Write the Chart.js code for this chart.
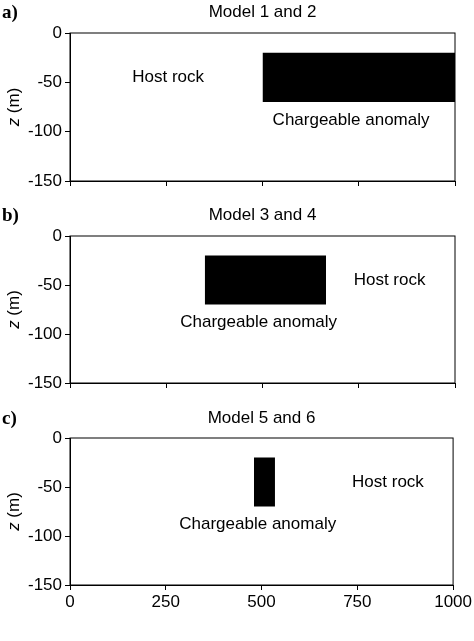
<!DOCTYPE html>
<html><head>
<script src="https://cdn.jsdelivr.net/npm/chart.js@4/dist/chart.umd.min.js"></script>
<style>
body{margin:0;background:#fff;width:474px;height:641px;position:relative;overflow:hidden}
.p{position:absolute;left:0;width:474px}
</style></head><body>
<div class="p" style="top:0;height:203px"><canvas id="ca"></canvas></div>
<div class="p" style="top:203px;height:203px"><canvas id="cb"></canvas></div>
<div class="p" style="top:406px;height:235px"><canvas id="cc"></canvas></div>
<script>
// Panel data
const panels = [
  {id:'ca', letter:'a)', title:'Model 1 and 2', anomX:[500,1000], host:[255,-45], anomLabel:[730,-88], top:33, bottom:16, last:false},
  {id:'cb', letter:'b)', title:'Model 3 and 4', anomX:[350,665], host:[830,-45], anomLabel:[490,-88], top:33, bottom:17, last:false},
  {id:'cc', letter:'c)', title:'Model 5 and 6', anomX:[480,535], host:[830,-45], anomLabel:[490,-88], top:32, bottom:0, last:true},
];
const anomZ = [-20, -70];
const xTicks = [0,250,500,750,1000];
const zTicks = [0,-50,-100,-150];

const FONT = '17px "Liberation Sans"', IFONT = 'italic 17px "Liberation Sans"';

function mixed(ctx, a, b, x, y) {
  ctx.font = IFONT; const w1 = ctx.measureText(a).width;
  ctx.font = FONT; const w2 = ctx.measureText(b).width;
  const x0 = x - (w1 + w2) / 2;
  ctx.font = IFONT; ctx.fillText(a, x0, y);
  ctx.font = FONT; ctx.fillText(b, x0 + w1, y);
}

const labels = {
  id:'labels',
  afterDraw(c){
    const p = c.options.plugins.labels.p, ctx = c.ctx, xs = c.scales.x, ys = c.scales.y, A = c.chartArea;
    ctx.save();
    ctx.strokeStyle='#000'; ctx.lineWidth=1;
    ctx.strokeRect(A.left, A.top, A.right-A.left, A.bottom-A.top);
    ctx.fillStyle='#000';
    ctx.textBaseline='middle';
    ctx.font='bold 19px "Liberation Serif"';
    ctx.textAlign='left';
    ctx.fillText(p.letter, 2, 13);
    ctx.font=FONT;
    ctx.textAlign='center';
    ctx.fillText(p.title, (A.left+A.right)/2, 12);
    ctx.fillText('Host rock', xs.getPixelForValue(p.host[0]), ys.getPixelForValue(p.host[1]));
    ctx.fillText('Chargeable anomaly', xs.getPixelForValue(p.anomLabel[0]), ys.getPixelForValue(p.anomLabel[1]));
    ctx.textAlign='left';
    if (p.last) mixed(ctx, 'x', ' (m)', (A.left+A.right)/2, 627);
    ctx.translate(14, (A.top+A.bottom)/2);
    ctx.rotate(-Math.PI/2);
    mixed(ctx, 'z', ' (m)', 0, 0);
    ctx.restore();
  }
};

panels.forEach(p => {
  new Chart(document.getElementById(p.id), {
    type:'line',
    data:{datasets:[
      {data:[{x:p.anomX[0],y:anomZ[0]},{x:p.anomX[1],y:anomZ[0]}], borderColor:'#000', borderWidth:0, pointRadius:0, fill:false},
      {data:[{x:p.anomX[0],y:anomZ[1]},{x:p.anomX[1],y:anomZ[1]}], borderColor:'#000', borderWidth:0, pointRadius:0, fill:'-1', backgroundColor:'#000'},
    ]},
    options:{
      responsive:true, maintainAspectRatio:false, animation:false,
      layout:{padding:{top:p.top, bottom:p.bottom, right:19, left:0}},
      plugins:{legend:{display:false}, tooltip:{enabled:false}, labels:{p}},
      scales:{
        x:{type:'linear', min:0, max:1000,
          afterBuildTicks:s=>{s.ticks=xTicks.map(v=>({value:v}));},
          afterFit:s=>{s.height = p.last ? 56 : 6;},
          grid:{drawOnChartArea:false, color:'#000', tickLength:5},
          border:{color:'#000', width:1},
          ticks:{display:p.last, color:'#000', font:{size:17, family:'Liberation Sans'}, maxRotation:0, padding:2, callback:v=>String(v)}},
        y:{type:'linear', min:-150, max:0,
          afterBuildTicks:s=>{s.ticks=zTicks.map(v=>({value:v}));},
          afterFit:s=>{s.width=70;},
          grid:{drawOnChartArea:false, color:'#000', tickLength:5},
          border:{color:'#000', width:1},
          ticks:{color:'#000', font:{size:17, family:'Liberation Sans'}, padding:3, callback:v=>String(v)}}
      }
    },
    plugins:[labels]
  });
});
</script>
</body></html>
